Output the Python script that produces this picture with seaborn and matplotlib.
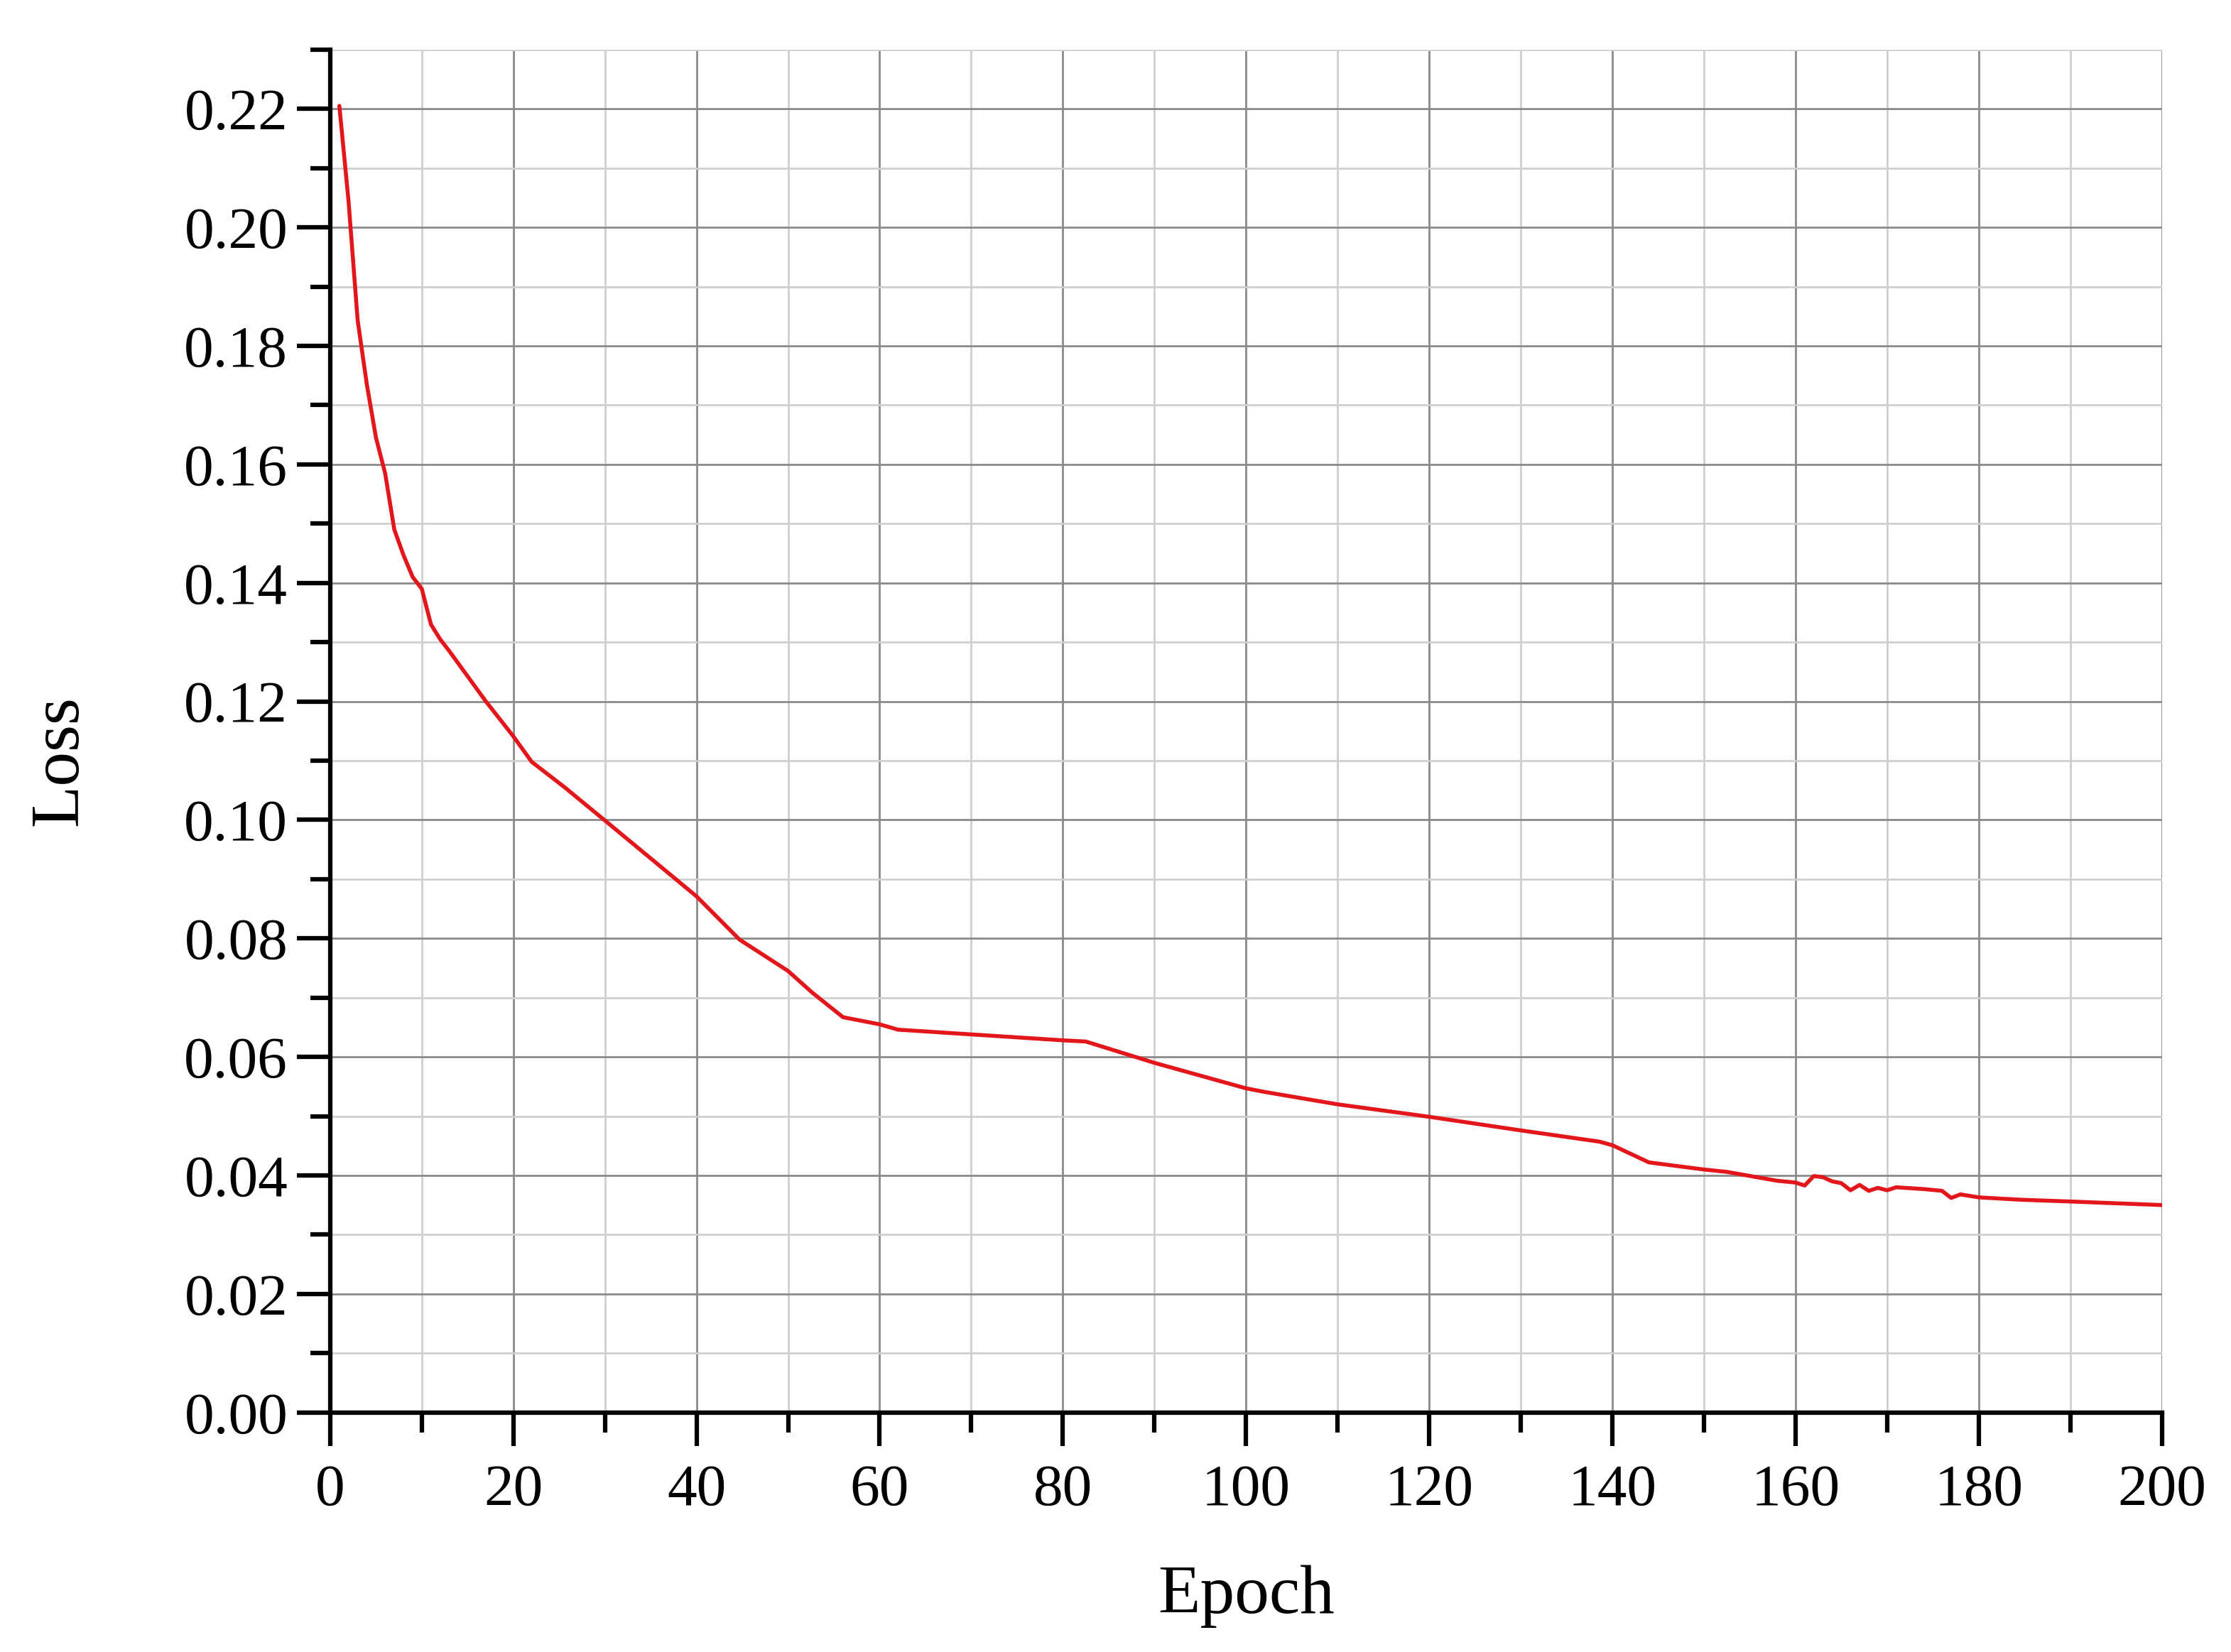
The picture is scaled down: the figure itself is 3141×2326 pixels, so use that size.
import numpy as np
import pandas as pd
import matplotlib.pyplot as plt
import seaborn as sns
from matplotlib.ticker import MultipleLocator

# Training loss
epoch = [1, 2, 3, 4, 5, 6, 7, 8, 9, 10, 11, 12, 13, 17, 20, 22, 25.6, 30,
         40, 44.7, 50, 52.6, 56, 60, 62, 70, 80, 82.5, 90, 100, 102, 110,
         120, 130, 138.6, 140, 144, 150, 152.5, 158, 160, 161, 162, 163,
         164, 165, 166, 167, 168, 169, 170, 171, 174, 176, 177, 178, 180,
         184.6, 190, 195, 200]
loss = [0.2205, 0.2045, 0.1843, 0.1735, 0.1645, 0.1585, 0.1490, 0.1447,
        0.1410, 0.1390, 0.1330, 0.1305, 0.1285, 0.1200, 0.1141, 0.1098,
        0.1055, 0.0999, 0.0871, 0.0798, 0.0745, 0.0709, 0.0667, 0.0655,
        0.0646, 0.0638, 0.0628, 0.0626, 0.0590, 0.0547, 0.0541, 0.0520,
        0.0499, 0.0476, 0.0457, 0.0451, 0.0422, 0.0410, 0.0406, 0.0391,
        0.0388, 0.0383, 0.0399, 0.0397, 0.0390, 0.0387, 0.0375, 0.0384,
        0.0374, 0.0379, 0.0375, 0.0380, 0.0377, 0.0374, 0.0362, 0.0368,
        0.0363, 0.0359, 0.0356, 0.0353, 0.0350]

df = pd.DataFrame({'Epoch': epoch, 'Loss': loss})

sns.set_style('ticks')
plt.rcParams.update({
    'font.family': ['Liberation Serif', 'DejaVu Serif'],
    'text.color': 'black',
    'axes.labelcolor': 'black',
    'xtick.color': 'black',
    'ytick.color': 'black',
    'xtick.labelsize': 60,
    'ytick.labelsize': 60,
    'axes.labelsize': 70,
})

fig = plt.figure(figsize=(31.41, 23.26), dpi=100)
ax = fig.add_axes([0.148, 0.145, 0.821, 0.825])

sns.lineplot(data=df, x='Epoch', y='Loss', ax=ax, color='#e3161b',
             linewidth=4, sort=False, zorder=3)

ax.set_xlim(0, 200)
ax.set_ylim(0, 0.23)
ax.xaxis.set_major_locator(MultipleLocator(20))
ax.xaxis.set_minor_locator(MultipleLocator(10))
ax.yaxis.set_major_locator(MultipleLocator(0.02))
ax.yaxis.set_minor_locator(MultipleLocator(0.01))
ax.yaxis.set_major_formatter(lambda v, p: f'{v:.2f}')

ax.grid(which='major', color='#8a8a8a', linewidth=2.0)
ax.grid(which='minor', color='#cfcfcf', linewidth=2.0)
ax.set_axisbelow(True)

for side in ['top', 'right']:
    ax.spines[side].set_visible(False)
for side in ['left', 'bottom']:
    ax.spines[side].set_linewidth(4.5)
    ax.spines[side].set_color('black')

ax.tick_params(which='major', direction='out', length=34, width=4.5, pad=18)
ax.tick_params(which='minor', direction='out', length=20, width=4.5)
ax.tick_params(axis='y', which='major', pad=9)

ax.set_xlabel('Epoch')
ax.set_ylabel('Loss')
ax.xaxis.set_label_coords(0.5, -0.112)
ax.yaxis.set_label_coords(-0.13, 0.478)

plt.savefig('out.png', dpi=100)
plt.close()
